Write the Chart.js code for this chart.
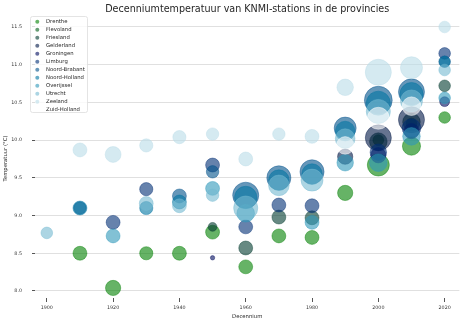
<!DOCTYPE html>
<html>
<head>
<meta charset="utf-8">
<script src="https://cdn.jsdelivr.net/npm/chart.js@4/dist/chart.umd.min.js"></script>
<style>
  html, body { margin: 0; padding: 0; background: #fff; }
  canvas { display: block; }
</style>
</head>
<body>
<canvas id="tempChart" width="474" height="322"></canvas>
<script>
// decennia en provincies
const decades = [1900, 1910, 1920, 1930, 1940, 1950, 1960, 1970, 1980, 1990, 2000, 2010, 2020];
const provinces = ['Drenthe', 'Flevoland', 'Friesland', 'Gelderland', 'Groningen', 'Limburg',
    'Noord-Brabant', 'Noord-Holland', 'Overijssel', 'Utrecht', 'Zeeland', 'Zuid-Holland'];

// gemiddelde temperatuur per decennium (°C), null = geen station
const tempDrenthe      = [null, 8.50, 8.04, 8.50, 8.50, 8.78, 8.32, 8.73, 8.71, 9.30, 9.67, 9.92, 10.30];
const tempFlevoland    = [null, null, null, null, null, null, null, null, null, null, 10.00, 10.22, null];
const tempFriesland    = [null, null, null, null, null, 8.85, 8.57, 8.98, 8.97, null, 9.98, 10.24, 10.72];
const tempGelderland   = [null, null, null, null, null, null, null, null, null, 9.78, 10.03, 10.27, null];
const tempGroningen    = [null, null, null, null, null, 8.44, null, null, null, null, 9.80, 10.12, 10.51];
const tempLimburg      = [null, null, 8.91, 9.35, null, 9.67, 8.85, 9.14, 9.13, null, 9.84, 10.16, 11.15];
const tempNoordBrabant = [null, 9.10, null, null, 9.26, 9.58, 9.27, 9.50, 9.58, 10.16, 10.53, 10.64, 11.04];
const tempNoordHolland = [null, 9.10, null, 9.10, 9.18, null, 9.24, 9.47, 9.55, 10.12, 10.49, 10.61, 11.04];
const tempOverijssel   = [null, null, 8.73, null, null, 9.36, 9.03, null, 8.91, 9.70, 9.70, 10.05, 10.56];
const tempUtrecht      = [8.77, null, null, 9.16, 9.13, 9.27, 9.10, 9.40, 9.47, 10.02, 10.38, 10.52, 10.93];
const tempZeeland      = [null, 9.87, 9.81, 9.93, 10.04, 10.08, 9.75, 10.08, 10.05, 10.70, 10.90, 10.96, 11.50];
const tempZuidHolland  = [null, null, null, null, null, null, null, null, null, 9.93, 10.29, 10.45, null];

// aantal stations per decennium (bepaalt grootte bubbel)
const nDrenthe      = [0, 10, 12, 9, 10, 10, 10, 10, 10, 12, 25, 17, 7];
const nFlevoland    = [0, 0, 0, 0, 0, 0, 0, 0, 0, 0, 6, 6, 0];
const nFriesland    = [0, 0, 0, 0, 0, 4, 10, 10, 10, 0, 16, 16, 7];
const nGelderland   = [0, 0, 0, 0, 0, 0, 0, 0, 0, 12, 35, 35, 0];
const nGroningen    = [0, 0, 0, 0, 0, 1, 0, 0, 0, 0, 12, 12, 5];
const nLimburg      = [0, 0, 10, 9, 0, 10, 10, 10, 10, 0, 14, 18, 7];
const nNoordBrabant = [0, 8, 0, 0, 10, 8, 35, 30, 30, 25, 40, 35, 7];
const nNoordHolland = [0, 10, 0, 9, 10, 0, 26, 22, 22, 20, 30, 28, 6];
const nOverijssel   = [0, 0, 10, 0, 0, 10, 16, 0, 10, 14, 16, 16, 7];
const nUtrecht      = [7, 0, 0, 10, 10, 8, 30, 22, 25, 20, 30, 25, 7];
const nZeeland      = [0, 10, 13, 9, 9, 8, 10, 8, 10, 14, 35, 25, 7];
const nZuidHolland  = [0, 0, 0, 0, 0, 0, 0, 0, 0, 16, 25, 18, 0];

const xTicks = [1900, 1920, 1940, 1960, 1980, 2000, 2020];
const yTicks = [8.0, 8.5, 9.0, 9.5, 10.0, 10.5, 11.0, 11.5];

const temps = [tempDrenthe, tempFlevoland, tempFriesland, tempGelderland, tempGroningen, tempLimburg,
    tempNoordBrabant, tempNoordHolland, tempOverijssel, tempUtrecht, tempZeeland, tempZuidHolland];
const counts = [nDrenthe, nFlevoland, nFriesland, nGelderland, nGroningen, nLimburg,
    nNoordBrabant, nNoordHolland, nOverijssel, nUtrecht, nZeeland, nZuidHolland];

// matplotlib 'ocean' colormap
function oceanColor(t, alpha) {
    const clip = v => Math.max(0, Math.min(1, v));
    const r = clip(3 * t - 2), g = clip(Math.abs((3 * t - 1) / 2)), b = clip(t);
    return `rgba(${Math.round(r * 255)}, ${Math.round(g * 255)}, ${Math.round(b * 255)}, ${alpha})`;
}

const FONT = "'DejaVu Sans', sans-serif";
const TITLE = 'Decenniumtemperatuur van KNMI-stations in de provincies';

const datasets = provinces.map((name, p) => {
    const color = oceanColor(p / (provinces.length - 1), 0.6);
    return {
        label: name,
        data: decades
            .map((d, i) => temps[p][i] == null ? null : {x: d, y: temps[p][i], r: 2.2 * Math.sqrt(counts[p][i])})
            .filter(pt => pt !== null),
        backgroundColor: color,
        borderColor: color,
        borderWidth: 0.7,
        order: provinces.length - p
    };
});

// titel boven het plotgebied + legenda linksboven
const titleAndLegend = {
    id: 'titleAndLegend',
    afterDraw(chart) {
        const ctx = chart.ctx;
        const area = chart.chartArea;
        ctx.save();
        ctx.font = `9.6px ${FONT}`;
        ctx.fillStyle = '#262626';
        ctx.textAlign = 'center';
        ctx.textBaseline = 'middle';
        ctx.fillText(TITLE, (area.left + area.right) / 2, 9);

        ctx.beginPath();
        ctx.roundRect(30.5, 16.5, 57, 96, 2);
        ctx.fillStyle = 'rgba(255,255,255,0.8)';
        ctx.fill();
        ctx.strokeStyle = '#dddddd';
        ctx.lineWidth = 0.8;
        ctx.stroke();
        ctx.font = `5.3px ${FONT}`;
        ctx.textAlign = 'left';
        chart.data.datasets.forEach((ds, i) => {
            const y = 21.7 + i * 8;
            ctx.beginPath();
            ctx.arc(37.3, y, 2, 0, Math.PI * 2);
            ctx.fillStyle = ds.backgroundColor;
            ctx.fill();
            ctx.fillStyle = '#262626';
            ctx.fillText(ds.label, 46, y + 0.3);
        });
        ctx.restore();
    }
};

new Chart(document.getElementById('tempChart').getContext('2d'), {
    type: 'bubble',
    data: {datasets},
    plugins: [titleAndLegend],
    options: {
        responsive: false,
        animation: false,
        devicePixelRatio: 1,
        layout: {padding: {left: 0, right: 8, top: 19, bottom: 0}},
        scales: {
            x: {
                type: 'linear',
                min: 1896.44,
                max: 2024.45,
                afterBuildTicks: scale => { scale.ticks = xTicks.map(v => ({value: v})); },
                afterFit: scale => { scale.height = 24; },
                grid: {drawOnChartArea: false, drawTicks: true, tickLength: 4, tickColor: '#555'},
                border: {display: false},
                ticks: {font: {family: FONT, size: 4.8}, color: '#333', padding: 3, maxRotation: 0,
                    callback: v => String(v)},
                title: {display: true, text: 'Decennium', font: {family: FONT, size: 5.3}, color: '#262626', padding: {top: 0, bottom: 2}}
            },
            y: {
                min: 7.907,
                max: 11.606,
                afterBuildTicks: scale => { scale.ticks = yTicks.map(v => ({value: v})); },
                afterFit: scale => { scale.width = 35; },
                grid: {color: '#e0e0e0', lineWidth: 1, tickLength: 10, tickColor: '#555',
                    tickBorderDash: [3, 7], tickBorderDashOffset: 3},
                border: {display: false},
                ticks: {font: {family: FONT, size: 4.8}, color: '#333', padding: 3,
                    callback: v => v.toFixed(1)},
                title: {display: true, text: 'Temperatuur (°C)', font: {family: FONT, size: 5.3}, color: '#262626', padding: {top: 2, bottom: 0}}
            }
        },
        plugins: {
            legend: {display: false},
            tooltip: {enabled: false},
            title: {display: false}
        }
    }
});
</script>
</body>
</html>
